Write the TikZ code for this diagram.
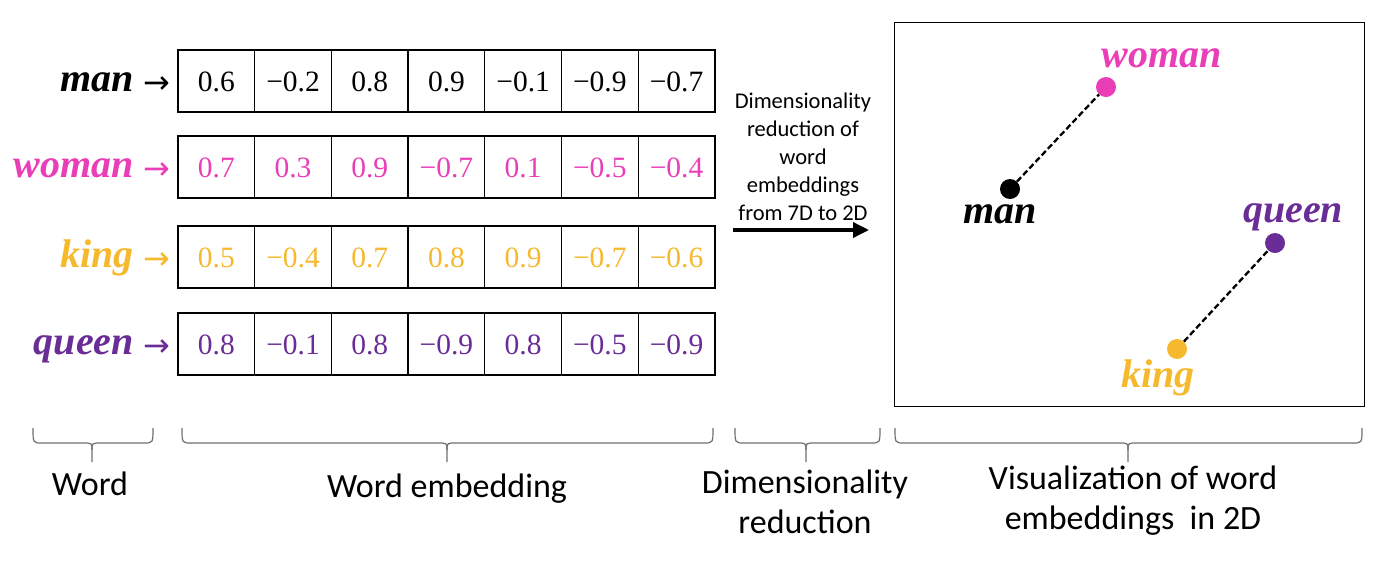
\documentclass[tikz,border=0pt]{standalone}
\usepackage{fontspec}
\setmainfont{Carlito}
\newfontfamily\numfont{Liberation Serif}
\newfontfamily\wordfont{Liberation Serif}
\newfontfamily\arrfont{DejaVu Sans}
\usetikzlibrary{arrows.meta}
\definecolor{wpink}{RGB}{234,62,185}
\definecolor{wgold}{RGB}{246,184,44}
\definecolor{wpurple}{RGB}{106,44,150}
\definecolor{bracegray}{RGB}{110,110,110}
\newcommand\mybrace[3]{%
  \draw[bracestyle] (#1,428) .. controls (#1,443) .. ({#1+9},443) -- ({#2-9},443) .. controls (#2,443) .. (#2,450) -- (#2,462);
  \draw[bracestyle] (#2,450) .. controls (#2,443) .. ({#2+9},443) -- ({#3-9},443) .. controls (#3,443) .. (#3,428);
}
\begin{document}
\begin{tikzpicture}[x=1pt,y=-1pt,
  cell/.style={draw, line width=1.3pt, minimum width=76.7pt, minimum height=62pt, inner sep=0pt},
  numtext/.style={font=\numfont\fontsize{29.5}{30}\selectfont, inner sep=0pt, anchor=base},
  word/.style={font=\wordfont\bfseries\itshape\fontsize{40}{40}\selectfont, inner sep=0pt},
  arr/.style={font=\arrfont\fontsize{32}{32}\selectfont, inner sep=0pt, anchor=base},
  dot/.style={circle, minimum size=20pt, inner sep=0pt},
  link/.style={dashed, line width=2.3pt, dash pattern=on 6pt off 3pt},
  bracestyle/.style={draw=bracegray, line width=1.2pt},
  caption/.style={font=\fontsize{34}{40}\selectfont, align=center, inner sep=0pt},
  small/.style={font=\fontsize{22.5}{28}\selectfont, align=center, inner sep=0pt}]
\path[use as bounding box] (0,0) rectangle (1382,566);

\foreach \name/\col/\y/\vals [count=\r] in {
  man/black/81/{0.6,−0.2,0.8,0.9,−0.1,−0.9,−0.7},
  woman/wpink/167/{0.7,0.3,0.9,−0.7,0.1,−0.5,−0.4},
  king/wgold/257/{0.5,−0.4,0.7,0.8,0.9,−0.7,−0.6},
  queen/wpurple/344/{0.8,−0.1,0.8,−0.9,0.8,−0.5,−0.9}} {
  \node[word, text=\col, anchor=base east] (w\r) at (134,\y+10) {\name};
  \node[arr, text=\col] (a\r) at (157,\y+12) {→};
  \foreach \v [count=\i] in \vals {
    \node[cell] (c\r-\i) at ({178+76.7*(\i-0.5)},\y) {};
    \node[numtext, text=\col] (t\r-\i) at ({178+76.7*(\i-0.5)},\y+10) {\v};
  }
}

% middle arrow and text
\node[small] (mid) at (803,157) {Dimensionality\\reduction of\\word\\embeddings\\from 7D to 2D};
\coordinate (ms) at (733,230);
\coordinate (me) at (869,230);
\draw[line width=3.5pt, -{Triangle[length=16pt, width=15pt]}] (ms) -- (me);

% right panel
\node[draw, line width=1.3pt, minimum width=470pt, minimum height=384pt, anchor=north west, inner sep=0pt] (panel) at (894,22) {};
\node[dot, fill=black] (pman) at (1010,189) {};
\node[dot, fill=wpink] (pwoman) at (1106,87) {};
\node[dot, fill=wpurple] (pqueen) at (1275,243) {};
\node[dot, fill=wgold] (pking) at (1177,349) {};
\draw[link] (pman) -- (pwoman);
\draw[link] (pking) -- (pqueen);
\node[word, text=wpink, anchor=base] (lwoman) at (1162,67) {woman};
\node[word, text=black, anchor=base] (lman) at (1000,223) {man};
\node[word, text=wpurple, anchor=base] (lqueen) at (1293,222) {queen};
\node[word, text=wgold, anchor=base] (lking) at (1158,387) {king};

% braces
\mybrace{33}{92}{153}
\mybrace{182}{447}{713}
\mybrace{735}{806}{880}
\mybrace{895}{1128}{1362}

\node[caption] (cw) at (90,484) {Word};
\node[caption] (ce) at (447,489) {Word embedding};
\node[caption] (cd) at (805,502) {Dimensionality\\reduction};
\node[caption] (cv) at (1133,501) {Visualization of word\\embeddings~ in 2D};
\end{tikzpicture}
\end{document}
